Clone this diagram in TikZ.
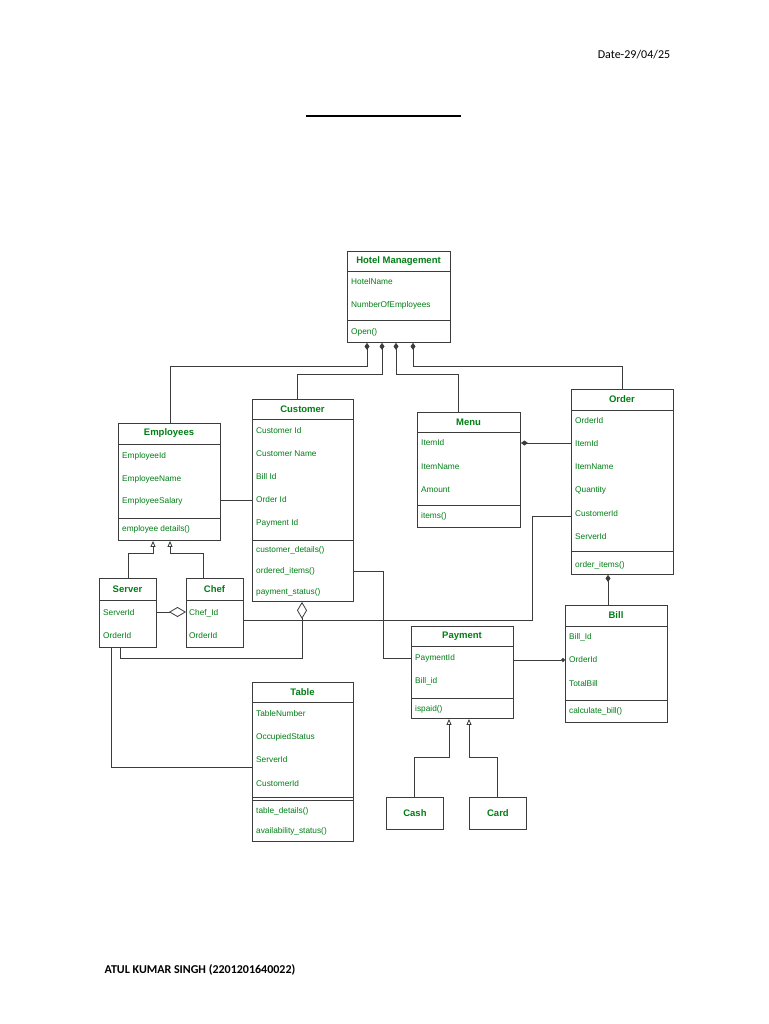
\documentclass[tikz,border=0pt]{standalone}
\usepackage{fontspec}
\setmainfont{Liberation Sans}
\newfontfamily\carlitofont{Carlito}
\usetikzlibrary{arrows.meta}
\definecolor{umlgreen}{RGB}{0,125,20}
\definecolor{edge}{RGB}{60,60,60}
\newcounter{an}
\tikzset{
  box/.style={draw=edge,line width=0.9pt},
  ttl/.style={font=\fontsize{9.5}{11}\selectfont\bfseries,text=umlgreen,inner sep=0pt},
  attr/.style={font=\fontsize{8.3}{10}\selectfont,text=umlgreen,anchor=west,inner sep=0pt},
  conn/.style={draw=edge,line width=0.8pt},
  fdia/.style={-{Diamond[length=7pt,width=5pt]}},
  odia/.style={-{Diamond[open,length=17pt,width=10pt,fill=white]}},
  gen/.style={-{Triangle[open,length=6pt,width=5pt,fill=white]}},
}
\newcommand\cls[8]{%
  \node[box,anchor=north west,minimum width=#4pt-#2pt,minimum height=#5pt-#3pt,inner sep=0pt] (#1) at (#2,#3) {};
  \draw[box] (#2,#6) -- (#4,#6);
  \ifx\relax#7\relax\else\draw[box] (#2,#7) -- (#4,#7);\fi
  \node[ttl] (#1t) at ({(#2+#4)/2},{(#3+#6)/2}) {#8};}
\newcommand\attr[3]{\stepcounter{an}\node[attr] (a\thean) at (#1,#2) {#3};}
\begin{document}
\begin{tikzpicture}[x=1pt,y=-1pt]
\useasboundingbox (0,0) rectangle (768,1024);
\node[font=\carlitofont\fontsize{12}{14}\selectfont,anchor=center] (date) at (634,55) {Date-29/04/25};
\coordinate (ul1) at (306,116); \coordinate (ul2) at (461,116);
\draw[line width=1.2pt] (ul1) -- (ul2);
\node[font=\carlitofont\fontsize{12}{14}\selectfont\bfseries] (author) at (200,970) {ATUL KUMAR SINGH (2201201640022)};

\cls{hm}{347}{251}{450}{342}{271}{320}{Hotel Management}
\attr{351}{282}{HotelName}\attr{351}{305}{NumberOfEmployees}\attr{351}{332}{Open()}
\cls{emp}{118}{423}{220}{540}{444}{518}{Employees}
\attr{122}{456}{EmployeeId}\attr{122}{479}{EmployeeName}\attr{122}{501}{EmployeeSalary}\attr{122}{529}{employee details()}
\cls{cus}{252}{399}{353}{601}{419}{540}{Customer}
\attr{256}{431}{Customer Id}\attr{256}{454}{Customer Name}\attr{256}{477}{Bill Id}\attr{256}{500}{Order Id}\attr{256}{523}{Payment Id}
\attr{256}{550}{customer\_details()}\attr{256}{571}{ordered\_items()}\attr{256}{592}{payment\_status()}
\cls{menu}{417}{412}{520}{527}{432}{505}{Menu}
\attr{421}{443}{ItemId}\attr{421}{467}{ItemName}\attr{421}{490}{Amount}\attr{421}{516}{items()}
\cls{ord}{571}{389}{673}{574}{410}{551}{Order}
\attr{575}{421}{OrderId}\attr{575}{444}{ItemId}\attr{575}{467}{ItemName}\attr{575}{490}{Quantity}\attr{575}{514}{CustomerId}\attr{575}{537}{ServerId}\attr{575}{565}{order\_items()}
\cls{srv}{99}{578}{156}{647}{600}{}{Server}
\attr{103}{613}{ServerId}\attr{103}{636}{OrderId}
\cls{chef}{186}{578}{243}{647}{600}{}{Chef}
\attr{189}{613}{Chef\_Id}\attr{189}{636}{OrderId}
\cls{bill}{565}{605}{667}{722}{626}{700}{Bill}
\attr{569}{637}{Bill\_Id}\attr{569}{660}{OrderId}\attr{569}{684}{TotalBill}\attr{569}{711}{calculate\_bill()}
\cls{pay}{411}{626}{513}{718}{646}{698}{Payment}
\attr{415}{658}{PaymentId}\attr{415}{681}{Bill\_id}\attr{415}{709}{ispaid()}
\cls{tab}{252}{682}{353}{841}{702}{797}{Table}
\draw[box] (252,800) -- (353,800);
\attr{256}{714}{TableNumber}\attr{256}{737}{OccupiedStatus}\attr{256}{760}{ServerId}\attr{256}{784}{CustomerId}\attr{256}{811}{table\_details()}\attr{256}{831}{availability\_status()}
\node[box,anchor=north west,minimum width=57pt,minimum height=32pt,inner sep=0pt] (cash) at (386,797) {};
\node[ttl] (casht) at (cash.center) {Cash};
\node[box,anchor=north west,minimum width=57pt,minimum height=32pt,inner sep=0pt] (card) at (469,797) {};
\node[ttl] (cardt) at (card.center) {Card};

\draw[conn,fdia] (emp.north -| 170,0) |- (367,366) -- (hm.south -| 367,0);
\draw[conn,fdia] (cus.north -| 297,0) |- (382,374) -- (hm.south -| 382,0);
\draw[conn,fdia] (menu.north -| 458,0) |- (396,374) -- (hm.south -| 396,0);
\draw[conn,fdia] (ord.north -| 622,0) |- (413,366) -- (hm.south -| 413,0);
\draw[conn,fdia] (ord.west |- 0,443) -- (menu.east |- 0,443);
\draw[conn] (emp.east |- 0,500) -- (cus.west |- 0,500);
\draw[conn,gen] (srv.north -| 128,0) |- (153,553) -- (emp.south -| 153,0);
\draw[conn,gen] (chef.north -| 203,0) |- (170,553) -- (emp.south -| 170,0);
\draw[conn,odia] (srv.east |- 0,612) -- (chef.west |- 0,612);
\draw[conn,odia] (srv.south -| 120,0) |- (302,658) -- (cus.south -| 302,0);
\draw[conn] (chef.east |- 0,620) -| (532,516) -- (ord.west |- 0,516);
\draw[conn] (cus.east |- 0,571) -| (383,658) -- (pay.west |- 0,658);
\draw[conn,-{Circle[length=4pt]}] (pay.east |- 0,660) -- (bill.west |- 0,660);
\draw[conn,fdia] (bill.north -| 608,0) -- (ord.south -| 608,0);
\draw[conn,gen] (cash.north -| 414,0) |- (449,757) -- (pay.south -| 449,0);
\draw[conn,gen] (card.north -| 497,0) |- (469,757) -- (pay.south -| 469,0);
\draw[conn] (srv.south -| 111,0) |- (tab.west |- 0,767);
\end{tikzpicture}
\end{document}
